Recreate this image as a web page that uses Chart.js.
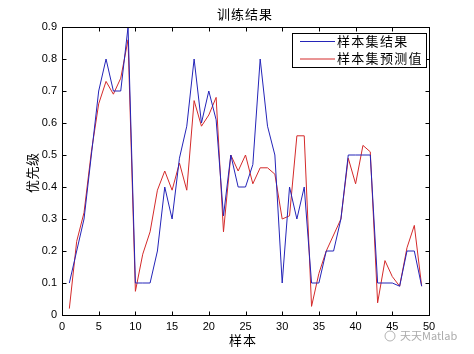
<!DOCTYPE html>
<html>
<head>
<meta charset="utf-8">
<script src="https://cdn.jsdelivr.net/npm/chart.js@4/dist/chart.umd.min.js"></script>
<style>
  html, body { margin: 0; padding: 0; background: #fff; }
  #wrap { width: 474px; height: 354px; }
</style>
</head>
<body>
<div id="wrap"><canvas id="chart-div" width="474" height="354"></canvas></div>
<script>
const samples = [1, 2, 3, 4, 5, 6, 7, 8, 9, 10, 11, 12, 13, 14, 15, 16, 17, 18, 19, 20, 21, 22, 23, 24, 25,
  26, 27, 28, 29, 30, 31, 32, 33, 34, 35, 36, 37, 38, 39, 40, 41, 42, 43, 44, 45, 46, 47, 48, 49];
const actual = [0.10, 0.20, 0.30, 0.50, 0.70, 0.80, 0.70, 0.70, 0.90, 0.10,
  0.10, 0.10, 0.20, 0.40, 0.30, 0.49, 0.59, 0.80, 0.60, 0.70,
  0.61, 0.31, 0.50, 0.40, 0.40, 0.47, 0.80, 0.59, 0.50, 0.10,
  0.40, 0.30, 0.40, 0.10, 0.10, 0.20, 0.20, 0.30, 0.50, 0.50,
  0.50, 0.50, 0.10, 0.10, 0.10, 0.09, 0.20, 0.20, 0.09];
const predicted = [0.02, 0.23, 0.32, 0.51, 0.66, 0.73, 0.69, 0.74, 0.86, 0.074,
  0.19, 0.26, 0.39, 0.45, 0.39, 0.475, 0.39, 0.67, 0.59, 0.625,
  0.68, 0.26, 0.50, 0.45, 0.50, 0.41, 0.46, 0.46, 0.44, 0.30,
  0.31, 0.56, 0.56, 0.027, 0.13, 0.20, 0.25, 0.30, 0.49, 0.41,
  0.53, 0.51, 0.038, 0.17, 0.12, 0.09, 0.21, 0.28, 0.09];
const seriesNames = ['样本集结果', '样本集预测值'];
const chartTitle = '训练结果';
const xTitle = '样本';
const yTitle = '优先级';

const cjk = '"Noto Sans CJK SC", sans-serif';
const num = '"Liberation Sans", Arial, sans-serif';

function spaced(ctx, text, x, y, step) {
  // draw chars one by one, matlab-ish wide spacing
  for (let i = 0; i < text.length; i++) ctx.fillText(text[i], x + i * step, y);
}

const boxPlugin = {
  id: 'matlabBox',
  afterDraw(chart) {
    const ctx = chart.ctx;
    const a = chart.chartArea;
    const xs = chart.scales.x, ys = chart.scales.y;
    ctx.save();
    ctx.strokeStyle = '#000';
    ctx.lineWidth = 1;
    const L = Math.round(a.left) + 0.5, R = Math.round(a.right) + 0.5;
    const T = Math.round(a.top) + 0.5, B = Math.round(a.bottom) + 0.5;
    ctx.strokeRect(L, T, R - L, B - T);
    ctx.beginPath();
    xs.ticks.forEach(t => {
      const px = Math.round(xs.getPixelForValue(t.value)) + 0.5;
      ctx.moveTo(px, B); ctx.lineTo(px, B - 4);
      ctx.moveTo(px, T); ctx.lineTo(px, T + 4);
    });
    ys.ticks.forEach(t => {
      const py = Math.round(ys.getPixelForValue(t.value)) + 0.5;
      ctx.moveTo(L, py); ctx.lineTo(L + 4, py);
      ctx.moveTo(R, py); ctx.lineTo(R - 4, py);
    });
    ctx.stroke();

    // title + axis labels
    ctx.fillStyle = '#000';
    ctx.font = '13px ' + cjk;
    ctx.textBaseline = 'middle';
    ctx.textAlign = 'left';
    spaced(ctx, chartTitle, 217, 14, 14);
    spaced(ctx, xTitle, 229, 340, 14);
    ctx.save();
    ctx.translate(32, 173);
    ctx.rotate(-Math.PI / 2);
    spaced(ctx, yTitle, -20, 0, 13.5);
    ctx.restore();

    // legend
    const lx = 292.5, ly = 33.5, lw = 134, lh = 34;
    ctx.fillStyle = '#fff';
    ctx.fillRect(lx, ly, lw, lh);
    ctx.strokeRect(lx, ly, lw, lh);
    ctx.font = '13px ' + cjk;
    chart.data.datasets.forEach((ds, i) => {
      const y = 41 + i * 17.5;
      ctx.strokeStyle = ds.borderColor;
      ctx.beginPath();
      ctx.moveTo(300, y + 0.5); ctx.lineTo(335, y + 0.5);
      ctx.stroke();
      ctx.fillStyle = '#000';
      spaced(ctx, ds.label, 337, y, 14.3);
    });

    // watermark
    ctx.fillStyle = 'rgba(150,150,150,0.8)';
    ctx.font = '11px ' + cjk;
    ctx.fillText('天天Matlab', 400, 336);
    ctx.strokeStyle = 'rgba(160,160,160,0.8)';
    ctx.beginPath();
    ctx.arc(390, 336, 5, 0, Math.PI * 2);
    ctx.stroke();
    ctx.restore();
  }
};

new Chart(document.getElementById('chart-div'), {
  type: 'line',
  data: {
    datasets: [{
      label: seriesNames[0],
      data: samples.map((s, i) => ({ x: s, y: actual[i] })),
      borderColor: '#2424b8',
      borderWidth: 1,
      pointRadius: 0,
      tension: 0
    }, {
      label: seriesNames[1],
      data: samples.map((s, i) => ({ x: s, y: predicted[i] })),
      borderColor: '#d42a2a',
      borderWidth: 1,
      pointRadius: 0,
      tension: 0
    }]
  },
  options: {
    responsive: false,
    animation: false,
    layout: { padding: { top: 27, right: 45, left: 0, bottom: 0 } },
    plugins: {
      legend: { display: false },
      title: { display: false },
      tooltip: { enabled: false }
    },
    scales: {
      x: {
        type: 'linear',
        min: 0,
        max: 50,
        grid: { display: false, drawTicks: false },
        border: { display: false },
        ticks: { stepSize: 5, padding: 5, color: '#000', font: { family: num, size: 11 }, maxRotation: 0 },
        afterFit: s => { s.height = 39; }
      },
      y: {
        min: 0,
        max: 0.9,
        grid: { display: false, drawTicks: false },
        border: { display: false },
        ticks: {
          stepSize: 0.1, padding: 5, color: '#000', font: { family: num, size: 11 },
          callback: v => String(Number(v.toFixed(1)))
        },
        afterFit: s => { s.width = 62; }
      }
    }
  },
  plugins: [boxPlugin]
});
</script>
</body>
</html>
